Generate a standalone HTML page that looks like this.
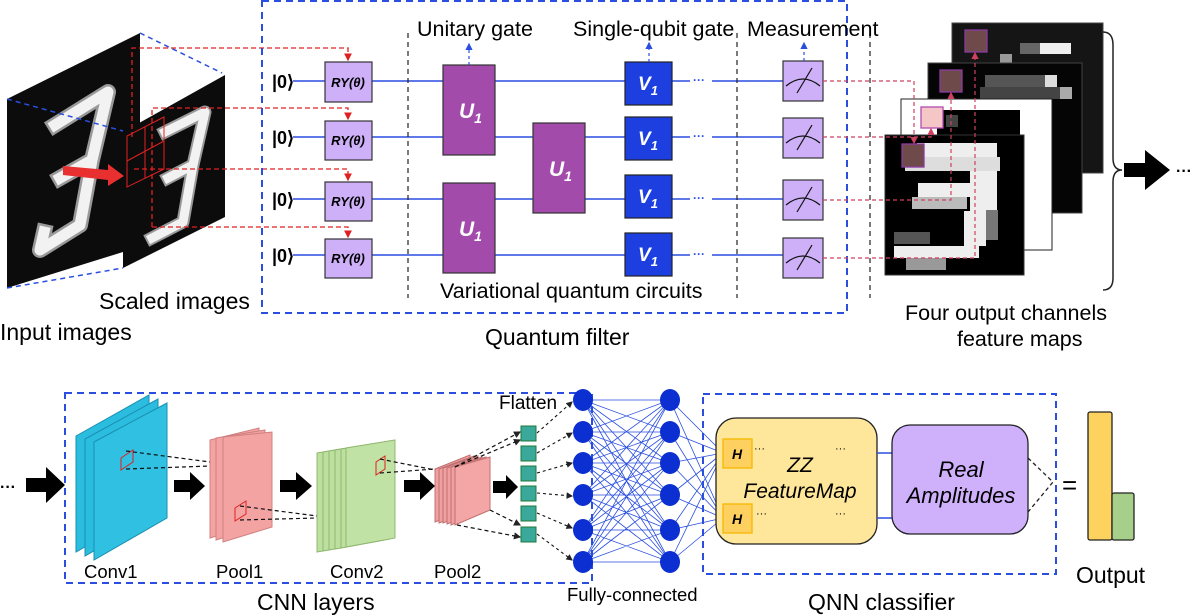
<!DOCTYPE html>
<html><head><meta charset="utf-8"><style>
html,body{margin:0;padding:0;background:#fff;}
svg{display:block;font-family:"Liberation Sans",Arial,sans-serif;}
</style></head><body>
<svg width="1200" height="616" viewBox="0 0 1200 616" xmlns="http://www.w3.org/2000/svg">
<defs>
<marker id="ar" markerWidth="6" markerHeight="6" refX="5" refY="3" orient="auto"><path d="M0,0 L6,3 L0,6z" fill="#e02020"/></marker>
<marker id="ak" markerWidth="6" markerHeight="6" refX="5" refY="3" orient="auto"><path d="M0,0 L6,3 L0,6z" fill="#222"/></marker>
<marker id="ab" markerWidth="6" markerHeight="6" refX="5" refY="3" orient="auto"><path d="M0,0 L6,3 L0,6z" fill="#2a4fe0"/></marker>
<marker id="ap" markerWidth="6" markerHeight="6" refX="5" refY="3" orient="auto"><path d="M0,0 L6,3 L0,6z" fill="#d04060"/></marker>
</defs>

<!-- ===== Input images ===== -->
<polygon points="7,99 140,33 140,230 123,252 7,288" fill="#0c0c0c"/>
<g fill="none" stroke-linecap="square" stroke-linejoin="round">
<path d="M55,125 L108,92 L92,160 M60,178 L92,160 L80,225 L40,250 L44,232" stroke="#999" stroke-width="16"/>
<path d="M55,125 L108,92 L92,160 M60,178 L92,160 L80,225 L40,250 L44,232" stroke="#f2f2f2" stroke-width="11"/>
</g>
<polygon points="123,132 225,75 225,217 123,268" fill="#0c0c0c"/>
<g fill="none" stroke-linecap="square" stroke-linejoin="round">
<path d="M165,132 L205,112 L193,165 M168,178 L193,165 L183,222 L152,238" stroke="#999" stroke-width="13"/>
<path d="M165,132 L205,112 L193,165 M168,178 L193,165 L183,222 L152,238" stroke="#f2f2f2" stroke-width="9"/>
</g>
<line x1="7" y1="99" x2="123" y2="131" stroke="#2a4fe0" stroke-width="1.5" stroke-dasharray="5,4"/>
<line x1="140" y1="33" x2="222" y2="73" stroke="#2a4fe0" stroke-width="1.5" stroke-dasharray="5,4"/>
<line x1="7" y1="288" x2="123" y2="268" stroke="#2a4fe0" stroke-width="1.5" stroke-dasharray="5,4"/>
<polygon points="127,136 164,117 164,169 127,187" fill="none" stroke="#e02020" stroke-width="1"/>
<line x1="145" y1="127" x2="145" y2="178" stroke="#e02020"/>
<line x1="127" y1="161" x2="164" y2="141" stroke="#e02020"/>
<polygon points="63,166 108,170 108,164 124,176 108,186 108,180 63,175" fill="#e83030"/>
<g fill="none" stroke="#e02020" stroke-width="1.3" stroke-dasharray="5,3">
<polyline points="132,137 132,48 348,48 348,60" marker-end="url(#ar)"/>
<polyline points="152,227 152,108 348,108 348,119" marker-end="url(#ar)"/>
<polyline points="134,169 348,169 348,180" marker-end="url(#ar)"/>
<polyline points="152,227 348,227 348,237" marker-end="url(#ar)"/>
</g>
<text x="99" y="309" font-size="23">Scaled images</text>
<text x="0" y="340" font-size="23">Input images</text>

<!-- ===== Quantum filter ===== -->
<rect x="262" y="1" width="585" height="312" fill="none" stroke="#2a4fe0" stroke-width="2" stroke-dasharray="7,5"/>
<g stroke="#2a4fe0" stroke-width="1.5">
<line x1="293" y1="81" x2="690" y2="81"/><line x1="712" y1="81" x2="783" y2="81"/>
<line x1="293" y1="137" x2="690" y2="137"/><line x1="712" y1="137" x2="783" y2="137"/>
<line x1="293" y1="199" x2="690" y2="199"/><line x1="712" y1="199" x2="783" y2="199"/>
<line x1="293" y1="255" x2="690" y2="255"/><line x1="712" y1="255" x2="783" y2="255"/>
</g>
<g font-size="18" font-weight="bold">
<text x="272" y="88">|0⟩</text><text x="272" y="144">|0⟩</text><text x="272" y="206">|0⟩</text><text x="272" y="262">|0⟩</text>
</g>
<g fill="#cdb0f8" stroke="#333" stroke-width="1.2">
<rect x="325" y="62" width="47" height="40"/><rect x="325" y="121" width="47" height="39"/>
<rect x="325" y="182" width="47" height="39"/><rect x="325" y="239" width="47" height="39"/>
</g>
<g font-size="13" font-weight="bold" font-style="italic" text-anchor="middle">
<text x="348" y="87">RY(θ)</text><text x="348" y="145">RY(θ)</text><text x="348" y="206">RY(θ)</text><text x="348" y="263">RY(θ)</text>
</g>
<g stroke="#222" stroke-width="1.2" stroke-dasharray="5,4">
<line x1="408" y1="33" x2="408" y2="298"/><line x1="737" y1="33" x2="737" y2="298"/><line x1="870" y1="33" x2="870" y2="298"/>
</g>
<g fill="#a24bab" stroke="#333" stroke-width="1.2">
<rect x="443" y="65" width="52" height="90"/><rect x="443" y="183" width="52" height="90"/><rect x="533" y="123" width="52" height="90"/>
</g>
<g fill="#fff" font-size="21" font-weight="bold" font-style="italic">
<text x="459" y="118">U<tspan font-size="14" dy="5">1</tspan></text>
<text x="459" y="236">U<tspan font-size="14" dy="5">1</tspan></text>
<text x="549" y="176">U<tspan font-size="14" dy="5">1</tspan></text>
</g>
<g fill="#1e3fe0" stroke="#222" stroke-width="1.2">
<rect x="625" y="62" width="47" height="43"/><rect x="625" y="117" width="47" height="43"/>
<rect x="625" y="175" width="47" height="43"/><rect x="625" y="233" width="47" height="43"/>
</g>
<g fill="#fff" font-size="19" font-weight="bold" font-style="italic">
<text x="638" y="90">V<tspan font-size="13" dy="5">1</tspan></text>
<text x="638" y="145">V<tspan font-size="13" dy="5">1</tspan></text>
<text x="638" y="203">V<tspan font-size="13" dy="5">1</tspan></text>
<text x="638" y="261">V<tspan font-size="13" dy="5">1</tspan></text>
</g>
<g fill="#2a4fe0" font-size="12" font-weight="bold"><text x="693" y="84">···</text><text x="693" y="140">···</text><text x="693" y="202">···</text><text x="693" y="258">···</text></g>
<g fill="#cdb0f8" stroke="#333" stroke-width="1.2">
<rect x="783" y="61" width="40" height="40"/><rect x="783" y="118" width="40" height="40"/>
<rect x="783" y="180" width="40" height="40"/><rect x="783" y="238" width="40" height="40"/>
</g>
<g fill="none" stroke="#111" stroke-width="1.2">
<path d="M786,86 Q803,72 820,86"/><line x1="797" y1="93" x2="812" y2="68"/>
<path d="M786,143 Q803,129 820,143"/><line x1="797" y1="150" x2="812" y2="125"/>
<path d="M786,205 Q803,191 820,205"/><line x1="797" y1="212" x2="812" y2="187"/>
<path d="M786,263 Q803,249 820,263"/><line x1="797" y1="270" x2="812" y2="245"/>
</g>
<g stroke="#2a4fe0" stroke-width="1.2" stroke-dasharray="3,3">
<line x1="469" y1="65" x2="469" y2="44" marker-end="url(#ab)"/>
<line x1="649" y1="62" x2="649" y2="43" marker-end="url(#ab)"/>
<line x1="804" y1="61" x2="804" y2="43" marker-end="url(#ab)"/>
</g>
<g font-size="21.5">
<text x="417" y="36">Unitary gate</text>
<text x="573" y="36">Single-qubit gate</text>
<text x="747" y="36">Measurement</text>
<text x="440" y="298">Variational quantum circuits</text>
</g>
<text x="485" y="345" font-size="23">Quantum filter</text>

<!-- ===== Feature maps ===== -->
<rect x="952" y="23" width="151" height="150" fill="#151515" stroke="#444"/>
<rect x="1040" y="43" width="31" height="11" fill="#eee"/><rect x="1020" y="43" width="20" height="11" fill="#666"/><rect x="1000" y="54" width="12" height="9" fill="#999"/>
<rect x="928" y="63" width="154" height="150" fill="#050505" stroke="#444"/>
<rect x="985" y="75" width="60" height="12" fill="#555"/><rect x="1045" y="75" width="12" height="12" fill="#ddd"/><rect x="980" y="87" width="80" height="12" fill="#444"/><rect x="1060" y="87" width="12" height="12" fill="#aaa"/>
<rect x="901" y="99" width="151" height="151" fill="#fff" stroke="#222"/>
<rect x="937" y="110" width="83" height="125" fill="#000"/>
<rect x="968" y="141" width="26" height="12" fill="#888"/><rect x="946" y="115" width="12" height="12" fill="#444"/>
<rect x="885" y="135" width="139" height="140" fill="#000" stroke="#333"/>
<g fill="#eee">
<rect x="917" y="143" width="80" height="14"/><rect x="905" y="157" width="95" height="14" fill="#ddd"/>
<rect x="970" y="171" width="27" height="40"/><rect x="918" y="183" width="60" height="14"/>
<rect x="912" y="197" width="55" height="12" fill="#bbb"/><rect x="964" y="211" width="22" height="35"/>
<rect x="894" y="232" width="36" height="12" fill="#555"/><rect x="894" y="246" width="85" height="12"/>
<rect x="906" y="258" width="40" height="12" fill="#999"/><rect x="986" y="210" width="12" height="30" fill="#777"/>
</g>
<rect x="965" y="30" width="22" height="22" fill="#6e4a4a" stroke="#8a3aa0" stroke-width="1.3"/>
<rect x="940" y="70" width="22" height="22" fill="#6e4a4a" stroke="#8a3aa0" stroke-width="1.3"/>
<rect x="921" y="107" width="22" height="21" fill="#f4c6c6" stroke="#b04ab0" stroke-width="1.3"/>
<rect x="902" y="144" width="22" height="23" fill="#6e4a4a" stroke="#8a3aa0" stroke-width="1.3"/>
<g fill="none" stroke="#d04060" stroke-width="1.2" stroke-dasharray="4,3">
<polyline points="823,81 914,81 914,143" marker-end="url(#ap)"/>
<polyline points="823,137 931,137 931,129" marker-end="url(#ap)"/>
<polyline points="823,200 951,200 951,93" marker-end="url(#ap)"/>
<polyline points="823,258 975,258 975,53" marker-end="url(#ap)"/>
</g>
<path d="M1103,32 Q1113,32 1113,45 L1113,158 Q1113,170 1122,170 Q1113,170 1113,182 L1113,278 Q1113,290 1103,290" fill="none" stroke="#222" stroke-width="1.5"/>
<polygon points="1124,163 1145,163 1145,150 1170,170 1145,190 1145,177 1124,177" fill="#000"/>
<text x="1176" y="176" font-size="16" font-weight="bold">···</text>
<text x="905" y="320" font-size="21.5">Four output channels</text>
<text x="957" y="346" font-size="21.5">feature maps</text>

<!-- ===== CNN ===== -->
<rect x="65" y="393" width="527" height="190" fill="none" stroke="#2a4fe0" stroke-width="2" stroke-dasharray="7,5"/>
<text x="0" y="492" font-size="16" font-weight="bold">···</text>
<polygon points="26,478 46,478 46,467 65,485 46,503 46,492 26,492" fill="#000"/>
<g stroke="#1a8fb0" stroke-width="1">
<polygon points="76,436 149,395 149,510 76,552" fill="#2bbde0"/>
<polygon points="85,439 158,399 158,514 85,556" fill="#2bbde0"/>
<polygon points="94,442 167,403 167,518 94,560" fill="#30c0e2"/>
</g>
<polygon points="121,458 133,450 133,462 121,470" fill="none" stroke="#e02020"/>
<g stroke="#d08080" stroke-width="1">
<polygon points="210,440 259,428 259,522 210,538" fill="#f4a3a3"/>
<polygon points="216,438 265,430 265,524 216,540" fill="#f4a3a3"/>
<polygon points="223,437 272,432 272,527 223,542" fill="#f4a3a3"/>
</g>
<polygon points="235,508 246,501 246,514 235,521" fill="none" stroke="#e02020"/>
<g stroke="#90b870" stroke-width="1">
<polygon points="317,453 366,445 366,543 317,552" fill="#bde0a0"/>
<polygon points="323,452 372,444 372,542 323,551" fill="#bde0a0"/>
<polygon points="329,451 378,443 378,541 329,550" fill="#bde0a0"/>
<polygon points="335,450 384,442 384,540 335,549" fill="#bde0a0"/>
<polygon points="341,449 390,441 390,539 341,548" fill="#bde0a0"/>
<polygon points="346,448 395,440 395,538 346,547" fill="#c0e2a4"/>
</g>
<polygon points="376,462 385,456 385,469 376,475" fill="none" stroke="#e02020"/>
<g stroke="#c07070" stroke-width="1">
<polygon points="435,469 470,455 470,508 435,522" fill="#f0a0a0"/>
<polygon points="439,469 474,456 474,509 439,523" fill="#f0a0a0"/>
<polygon points="443,468 478,456 478,509 443,523" fill="#f0a0a0"/>
<polygon points="447,468 482,457 482,510 447,524" fill="#f0a0a0"/>
<polygon points="451,467 486,457 486,510 451,525" fill="#f0a0a0"/>
<polygon points="455,467 490,457 490,510 455,525" fill="#f4a6a6"/>
</g>
<g stroke="#111" stroke-width="1.2" stroke-dasharray="4,3" fill="none">
<line x1="126" y1="451" x2="210" y2="462"/><line x1="126" y1="469" x2="210" y2="466"/>
<line x1="240" y1="506" x2="317" y2="516"/><line x1="240" y1="520" x2="317" y2="518"/>
<line x1="380" y1="459" x2="435" y2="470"/><line x1="380" y1="473" x2="435" y2="469"/>
<line x1="455" y1="467" x2="520" y2="432" marker-end="url(#ak)"/>
<line x1="455" y1="467" x2="520" y2="440" marker-end="url(#ak)"/>
<line x1="490" y1="510" x2="520" y2="525" marker-end="url(#ak)"/>
<line x1="457" y1="525" x2="520" y2="537" marker-end="url(#ak)"/>
</g>
<g fill="#000">
<polygon points="174,480 190,480 190,472 205,486 190,500 190,492 174,492"/>
<polygon points="280,480 296,480 296,472 312,486 296,500 296,492 280,492"/>
<polygon points="404,480 420,480 420,472 435,486 420,500 420,492 404,492"/>
<polygon points="493,481 506,481 506,475 518,487 506,499 506,493 493,493"/>
</g>
<g fill="#3aa89a" stroke="#1f7a3a" stroke-width="1">
<rect x="521" y="426" width="15" height="15"/><rect x="521" y="446" width="15" height="15"/><rect x="521" y="466" width="15" height="15"/>
<rect x="521" y="486" width="15" height="15"/><rect x="521" y="506" width="15" height="15"/><rect x="521" y="527" width="15" height="15"/>
</g>
<g stroke="#111" stroke-width="1.1" stroke-dasharray="3,3" fill="none">
<line x1="537" y1="433" x2="572" y2="402" marker-end="url(#ak)"/>
<line x1="537" y1="453" x2="572" y2="433" marker-end="url(#ak)"/>
<line x1="537" y1="473" x2="572" y2="463" marker-end="url(#ak)"/>
<line x1="537" y1="493" x2="572" y2="496" marker-end="url(#ak)"/>
<line x1="537" y1="513" x2="572" y2="528" marker-end="url(#ak)"/>
<line x1="537" y1="534" x2="572" y2="560" marker-end="url(#ak)"/>
</g>
<text x="499" y="409" font-size="19">Flatten</text>
<g font-size="18.5">
<text x="84" y="578">Conv1</text><text x="216" y="578">Pool1</text><text x="330" y="578">Conv2</text><text x="434" y="578">Pool2</text>
</g>
<text x="257" y="610" font-size="23">CNN layers</text>

<g stroke="#2a4fe0" stroke-width="0.8">
<path d="M583,400 L670,400 M583,400 L670,432 M583,400 L670,463 M583,400 L670,495 M583,400 L670,530 M583,400 L670,562
M583,432 L670,400 M583,432 L670,432 M583,432 L670,463 M583,432 L670,495 M583,432 L670,530 M583,432 L670,562
M583,463 L670,400 M583,463 L670,432 M583,463 L670,463 M583,463 L670,495 M583,463 L670,530 M583,463 L670,562
M583,495 L670,400 M583,495 L670,432 M583,495 L670,463 M583,495 L670,495 M583,495 L670,530 M583,495 L670,562
M583,530 L670,400 M583,530 L670,432 M583,530 L670,463 M583,530 L670,495 M583,530 L670,530 M583,530 L670,562
M583,562 L670,400 M583,562 L670,432 M583,562 L670,463 M583,562 L670,495 M583,562 L670,530 M583,562 L670,562
M670,400 L723,453 M670,432 L723,453 M670,463 L723,453 M670,495 L723,453 M670,530 L723,453 M670,562 L723,453
M670,400 L723,518 M670,432 L723,518 M670,463 L723,518 M670,495 L723,518 M670,530 L723,518 M670,562 L723,518"/>
</g>
<g fill="#0b2fd0">
<ellipse cx="583" cy="400" rx="10" ry="11"/><ellipse cx="583" cy="432" rx="10" ry="11"/><ellipse cx="583" cy="463" rx="10" ry="11"/>
<ellipse cx="583" cy="495" rx="10" ry="11"/><ellipse cx="583" cy="530" rx="10" ry="11"/><ellipse cx="583" cy="562" rx="10" ry="11"/>
<ellipse cx="670" cy="400" rx="10" ry="11"/><ellipse cx="670" cy="432" rx="10" ry="11"/><ellipse cx="670" cy="463" rx="10" ry="11"/>
<ellipse cx="670" cy="495" rx="10" ry="11"/><ellipse cx="670" cy="530" rx="10" ry="11"/><ellipse cx="670" cy="562" rx="10" ry="11"/>
</g>
<text x="567" y="601" font-size="18.5">Fully-connected</text>

<!-- ===== QNN ===== -->
<rect x="703" y="394" width="353" height="180" fill="none" stroke="#2a4fe0" stroke-width="2" stroke-dasharray="7,5"/>
<rect x="716" y="418" width="161" height="126" rx="20" fill="#fee69a" stroke="#222" stroke-width="1.3"/>
<rect x="723" y="439" width="29" height="29" fill="#fdd05f" stroke="#f5b800" stroke-width="1.3"/>
<rect x="723" y="504" width="29" height="29" fill="#fdd05f" stroke="#f5b800" stroke-width="1.3"/>
<g font-size="14" font-weight="bold" font-style="italic" text-anchor="middle"><text x="737" y="459">H</text><text x="737" y="524">H</text></g>
<g font-size="11"><text x="754" y="452">···</text><text x="835" y="452">···</text><text x="756" y="517">···</text><text x="835" y="517">···</text></g>
<g font-size="21" font-style="italic" text-anchor="middle"><text x="800" y="472">ZZ</text><text x="800" y="498">FeatureMap</text></g>
<g stroke="#2a4fe0" stroke-width="1.5"><line x1="877" y1="453" x2="892" y2="453"/><line x1="877" y1="518" x2="892" y2="518"/></g>
<rect x="892" y="425" width="136" height="109" rx="18" fill="#cfb0fb" stroke="#222" stroke-width="1.3"/>
<g font-size="22" font-style="italic" text-anchor="middle"><text x="961" y="477">Real</text><text x="961" y="503">Amplitudes</text></g>
<polyline points="1028,458 1053,482 1028,512" fill="none" stroke="#222" stroke-width="1.3" stroke-dasharray="4,3"/>
<text x="1062" y="494" font-size="26">=</text>
<rect x="1088" y="412" width="24" height="128" rx="2" fill="#fdd25e" stroke="#222" stroke-width="1.3"/>
<rect x="1112" y="493" width="22" height="47" rx="2" fill="#a6d08a" stroke="#222" stroke-width="1.3"/>
<text x="1076" y="583" font-size="23">Output</text>
<text x="808" y="610" font-size="23">QNN classifier</text>
</svg>
</body></html>
